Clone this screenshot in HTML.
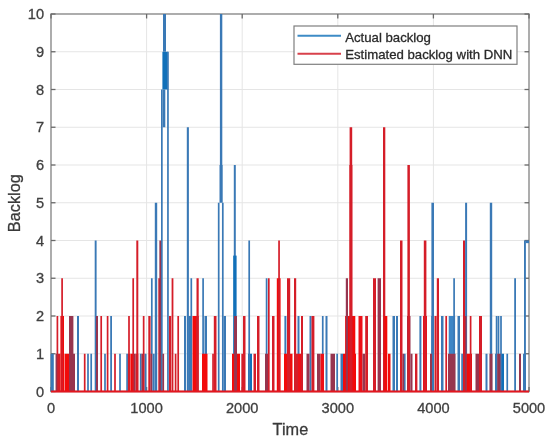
<!DOCTYPE html>
<html><head><meta charset="utf-8"><style>
html,body{margin:0;padding:0;background:#fff;width:550px;height:441px;overflow:hidden}
svg{display:block;filter:blur(0.35px)}
text{font-family:"Liberation Sans",Arial,sans-serif;stroke:currentColor;stroke-width:0.3px}
</style></head><body>
<svg width="550" height="441" viewBox="0 0 550 441">
<rect width="550" height="441" fill="#fff"/>
<g stroke="#e5e5e5" stroke-width="1"><line x1="146.60" y1="14.0" x2="146.60" y2="391.5"/><line x1="242.20" y1="14.0" x2="242.20" y2="391.5"/><line x1="337.80" y1="14.0" x2="337.80" y2="391.5"/><line x1="433.40" y1="14.0" x2="433.40" y2="391.5"/><line x1="51.0" y1="353.75" x2="529.0" y2="353.75"/><line x1="51.0" y1="316.00" x2="529.0" y2="316.00"/><line x1="51.0" y1="278.25" x2="529.0" y2="278.25"/><line x1="51.0" y1="240.50" x2="529.0" y2="240.50"/><line x1="51.0" y1="202.75" x2="529.0" y2="202.75"/><line x1="51.0" y1="165.00" x2="529.0" y2="165.00"/><line x1="51.0" y1="127.25" x2="529.0" y2="127.25"/><line x1="51.0" y1="89.50" x2="529.0" y2="89.50"/><line x1="51.0" y1="51.75" x2="529.0" y2="51.75"/></g><rect x="51.0" y="14.0" width="478.0" height="377.5" fill="none" stroke="#8a8a8a" stroke-width="1.4"/><g stroke="#6a6a6a" stroke-width="1.3"><line x1="51.00" y1="391.5" x2="51.00" y2="387.0"/><line x1="51.00" y1="14.0" x2="51.00" y2="18.5"/><line x1="146.60" y1="391.5" x2="146.60" y2="387.0"/><line x1="146.60" y1="14.0" x2="146.60" y2="18.5"/><line x1="242.20" y1="391.5" x2="242.20" y2="387.0"/><line x1="242.20" y1="14.0" x2="242.20" y2="18.5"/><line x1="337.80" y1="391.5" x2="337.80" y2="387.0"/><line x1="337.80" y1="14.0" x2="337.80" y2="18.5"/><line x1="433.40" y1="391.5" x2="433.40" y2="387.0"/><line x1="433.40" y1="14.0" x2="433.40" y2="18.5"/><line x1="529.00" y1="391.5" x2="529.00" y2="387.0"/><line x1="529.00" y1="14.0" x2="529.00" y2="18.5"/><line x1="51.0" y1="391.50" x2="55.5" y2="391.50"/><line x1="529.0" y1="391.50" x2="524.5" y2="391.50"/><line x1="51.0" y1="353.75" x2="55.5" y2="353.75"/><line x1="529.0" y1="353.75" x2="524.5" y2="353.75"/><line x1="51.0" y1="316.00" x2="55.5" y2="316.00"/><line x1="529.0" y1="316.00" x2="524.5" y2="316.00"/><line x1="51.0" y1="278.25" x2="55.5" y2="278.25"/><line x1="529.0" y1="278.25" x2="524.5" y2="278.25"/><line x1="51.0" y1="240.50" x2="55.5" y2="240.50"/><line x1="529.0" y1="240.50" x2="524.5" y2="240.50"/><line x1="51.0" y1="202.75" x2="55.5" y2="202.75"/><line x1="529.0" y1="202.75" x2="524.5" y2="202.75"/><line x1="51.0" y1="165.00" x2="55.5" y2="165.00"/><line x1="529.0" y1="165.00" x2="524.5" y2="165.00"/><line x1="51.0" y1="127.25" x2="55.5" y2="127.25"/><line x1="529.0" y1="127.25" x2="524.5" y2="127.25"/><line x1="51.0" y1="89.50" x2="55.5" y2="89.50"/><line x1="529.0" y1="89.50" x2="524.5" y2="89.50"/><line x1="51.0" y1="51.75" x2="55.5" y2="51.75"/><line x1="529.0" y1="51.75" x2="524.5" y2="51.75"/><line x1="51.0" y1="14.00" x2="55.5" y2="14.00"/><line x1="529.0" y1="14.00" x2="524.5" y2="14.00"/></g><rect x="50.60" y="353.75" width="3.20" height="37.75" fill="#3a79b6"/><rect x="77.00" y="316.00" width="2.00" height="75.50" fill="#3a79b6"/><rect x="87.15" y="353.75" width="1.70" height="37.75" fill="#3a79b6"/><rect x="90.35" y="353.75" width="1.70" height="37.75" fill="#3a79b6"/><rect x="94.70" y="240.50" width="1.90" height="151.00" fill="#3a79b6"/><rect x="104.15" y="353.75" width="1.70" height="37.75" fill="#3a79b6"/><rect x="110.20" y="316.00" width="1.80" height="75.50" fill="#3a79b6"/><rect x="119.15" y="353.75" width="1.70" height="37.75" fill="#3a79b6"/><rect x="126.25" y="353.75" width="1.70" height="37.75" fill="#3a79b6"/><rect x="139.85" y="353.75" width="1.70" height="37.75" fill="#3a79b6"/><rect x="144.40" y="353.75" width="2.10" height="37.75" fill="#3a79b6"/><rect x="150.95" y="278.25" width="1.70" height="113.25" fill="#3a79b6"/><rect x="152.95" y="353.75" width="1.70" height="37.75" fill="#3a79b6"/><rect x="154.80" y="202.75" width="2.40" height="188.75" fill="#3a79b6"/><rect x="161.00" y="89.50" width="1.70" height="302.00" fill="#3a79b6"/><rect x="162.70" y="89.50" width="2.60" height="37.75" fill="#3a79b6"/><rect x="162.40" y="51.75" width="5.40" height="37.75" fill="#1170b9"/><rect x="163.00" y="14.00" width="3.00" height="37.75" fill="#3a79b6"/><rect x="167.10" y="51.75" width="1.70" height="339.75" fill="#3a79b6"/><rect x="169.25" y="323.55" width="1.70" height="30.20" fill="#3a79b6"/><rect x="184.00" y="316.00" width="2.00" height="75.50" fill="#3a79b6"/><rect x="186.80" y="127.25" width="2.10" height="264.25" fill="#3a79b6"/><rect x="188.40" y="316.00" width="2.60" height="75.50" fill="#3a79b6"/><rect x="190.45" y="278.25" width="1.70" height="113.25" fill="#3a79b6"/><rect x="204.50" y="316.00" width="2.50" height="75.50" fill="#3a79b6"/><rect x="202.25" y="278.25" width="1.70" height="113.25" fill="#3a79b6"/><rect x="217.85" y="202.75" width="1.70" height="188.75" fill="#3a79b6"/><rect x="221.95" y="202.75" width="1.70" height="188.75" fill="#3a79b6"/><rect x="219.50" y="165.00" width="3.20" height="37.75" fill="#3a79b6"/><rect x="219.90" y="14.00" width="2.40" height="151.00" fill="#3a79b6"/><rect x="223.60" y="316.00" width="2.40" height="75.50" fill="#3a79b6"/><rect x="233.80" y="165.00" width="2.00" height="226.50" fill="#3a79b6"/><rect x="233.20" y="255.60" width="3.40" height="135.90" fill="#1170b9"/><rect x="248.00" y="353.75" width="4.00" height="37.75" fill="#1170b9"/><rect x="248.35" y="240.50" width="1.70" height="151.00" fill="#3a79b6"/><rect x="265.75" y="278.25" width="1.70" height="113.25" fill="#3a79b6"/><rect x="284.40" y="316.00" width="2.00" height="75.50" fill="#3a79b6"/><rect x="297.50" y="316.00" width="2.00" height="75.50" fill="#3a79b6"/><rect x="309.50" y="316.00" width="2.00" height="75.50" fill="#3a79b6"/><rect x="321.90" y="316.00" width="1.70" height="75.50" fill="#3a79b6"/><rect x="325.50" y="316.00" width="2.00" height="75.50" fill="#3a79b6"/><rect x="336.30" y="353.75" width="1.70" height="37.75" fill="#3a79b6"/><rect x="340.50" y="353.75" width="2.50" height="37.75" fill="#3a79b6"/><rect x="392.50" y="316.00" width="2.50" height="75.50" fill="#3a79b6"/><rect x="396.00" y="316.00" width="2.00" height="75.50" fill="#3a79b6"/><rect x="403.90" y="353.75" width="1.70" height="37.75" fill="#3a79b6"/><rect x="419.40" y="316.00" width="2.00" height="75.50" fill="#3a79b6"/><rect x="431.20" y="316.00" width="2.80" height="75.50" fill="#3a79b6"/><rect x="431.40" y="202.75" width="2.60" height="188.75" fill="#3a79b6"/><rect x="441.00" y="316.00" width="2.50" height="75.50" fill="#3a79b6"/><rect x="448.70" y="316.00" width="6.40" height="75.50" fill="#3d86c6"/><rect x="453.25" y="278.25" width="1.70" height="113.25" fill="#3a79b6"/><rect x="457.50" y="316.00" width="2.50" height="75.50" fill="#3a79b6"/><rect x="461.25" y="353.75" width="1.70" height="37.75" fill="#3a79b6"/><rect x="465.10" y="202.75" width="2.00" height="188.75" fill="#3a79b6"/><rect x="485.50" y="353.75" width="2.00" height="37.75" fill="#3a79b6"/><rect x="489.80" y="202.75" width="2.40" height="188.75" fill="#3a79b6"/><rect x="495.00" y="353.75" width="2.00" height="37.75" fill="#3a79b6"/><rect x="500.50" y="353.75" width="3.50" height="37.75" fill="#1170b9"/><rect x="495.75" y="316.00" width="1.70" height="75.50" fill="#3a79b6"/><rect x="497.65" y="316.00" width="1.70" height="75.50" fill="#3a79b6"/><rect x="500.15" y="316.00" width="1.70" height="75.50" fill="#3a79b6"/><rect x="506.40" y="353.75" width="1.70" height="37.75" fill="#3a79b6"/><rect x="514.20" y="278.25" width="1.80" height="113.25" fill="#3a79b6"/><rect x="523.00" y="353.75" width="3.00" height="37.75" fill="#3a79b6"/><rect x="524.00" y="240.50" width="1.90" height="151.00" fill="#3a79b6"/><rect x="525.90" y="240.50" width="3.10" height="2.64" fill="#3a79b6"/><rect x="56.55" y="316.00" width="1.70" height="75.50" fill="#d51d28"/><rect x="55.55" y="353.75" width="1.70" height="37.75" fill="#96354f"/><rect x="58.00" y="353.75" width="2.40" height="37.75" fill="#d51d28"/><rect x="60.40" y="316.00" width="3.60" height="75.50" fill="#f20a0a"/><rect x="61.25" y="278.25" width="1.70" height="113.25" fill="#d51d28"/><rect x="64.50" y="353.75" width="7.50" height="37.75" fill="#f20a0a"/><rect x="69.00" y="316.00" width="4.40" height="75.50" fill="#96354f"/><rect x="72.00" y="353.75" width="3.00" height="37.75" fill="#96354f"/><rect x="83.85" y="353.75" width="1.70" height="37.75" fill="#d51d28"/><rect x="96.00" y="316.00" width="2.00" height="75.50" fill="#96354f"/><rect x="100.35" y="316.00" width="1.70" height="75.50" fill="#d51d28"/><rect x="106.75" y="316.00" width="1.70" height="75.50" fill="#d51d28"/><rect x="114.15" y="353.75" width="1.70" height="37.75" fill="#d51d28"/><rect x="127.90" y="353.75" width="2.30" height="37.75" fill="#d51d28"/><rect x="128.15" y="316.00" width="1.70" height="75.50" fill="#d51d28"/><rect x="130.40" y="353.75" width="3.60" height="37.75" fill="#f20a0a"/><rect x="132.35" y="278.25" width="1.70" height="113.25" fill="#d51d28"/><rect x="133.95" y="353.75" width="1.70" height="37.75" fill="#96354f"/><rect x="135.60" y="353.75" width="2.70" height="37.75" fill="#d51d28"/><rect x="136.30" y="240.50" width="2.00" height="151.00" fill="#d51d28"/><rect x="141.40" y="353.75" width="1.70" height="37.75" fill="#96354f"/><rect x="142.80" y="316.00" width="1.70" height="75.50" fill="#d51d28"/><rect x="148.30" y="316.00" width="2.30" height="75.50" fill="#d51d28"/><rect x="150.50" y="353.75" width="1.70" height="37.75" fill="#96354f"/><rect x="158.30" y="278.25" width="2.70" height="113.25" fill="#d51d28"/><rect x="159.35" y="240.50" width="1.70" height="151.00" fill="#96354f"/><rect x="162.40" y="353.75" width="1.70" height="37.75" fill="#96354f"/><rect x="169.00" y="316.00" width="2.20" height="75.50" fill="#d51d28"/><rect x="171.60" y="278.25" width="1.80" height="113.25" fill="#d51d28"/><rect x="174.75" y="353.75" width="1.70" height="37.75" fill="#d51d28"/><rect x="177.35" y="316.00" width="1.70" height="75.50" fill="#d51d28"/><rect x="192.50" y="316.00" width="3.50" height="75.50" fill="#f20a0a"/><rect x="196.00" y="316.00" width="2.70" height="75.50" fill="#d51d28"/><rect x="196.50" y="278.25" width="2.20" height="113.25" fill="#d51d28"/><rect x="202.00" y="353.75" width="5.50" height="37.75" fill="#f20a0a"/><rect x="212.20" y="353.75" width="1.70" height="37.75" fill="#d51d28"/><rect x="213.80" y="316.00" width="2.70" height="75.50" fill="#d51d28"/><rect x="232.00" y="353.75" width="8.00" height="37.75" fill="#f20a0a"/><rect x="234.00" y="316.00" width="3.00" height="75.50" fill="#96354f"/><rect x="241.35" y="353.75" width="1.70" height="37.75" fill="#d51d28"/><rect x="243.00" y="316.00" width="2.50" height="75.50" fill="#d51d28"/><rect x="253.50" y="353.75" width="2.50" height="37.75" fill="#d51d28"/><rect x="257.00" y="316.00" width="2.50" height="75.50" fill="#d51d28"/><rect x="265.00" y="353.75" width="4.00" height="37.75" fill="#96354f"/><rect x="267.95" y="278.25" width="1.70" height="113.25" fill="#d51d28"/><rect x="272.00" y="316.00" width="2.50" height="75.50" fill="#d51d28"/><rect x="276.80" y="278.25" width="3.80" height="113.25" fill="#f20a0a"/><rect x="278.20" y="240.50" width="1.70" height="151.00" fill="#d51d28"/><rect x="284.00" y="353.75" width="8.50" height="37.75" fill="#f20a0a"/><rect x="287.00" y="278.25" width="3.20" height="113.25" fill="#d51d28"/><rect x="294.00" y="278.25" width="2.20" height="113.25" fill="#d51d28"/><rect x="296.00" y="353.75" width="2.00" height="37.75" fill="#d51d28"/><rect x="298.00" y="353.75" width="5.00" height="37.75" fill="#ec1018"/><rect x="301.00" y="316.00" width="2.00" height="75.50" fill="#d51d28"/><rect x="306.50" y="353.75" width="3.00" height="37.75" fill="#96354f"/><rect x="311.50" y="316.00" width="2.90" height="75.50" fill="#d51d28"/><rect x="317.00" y="353.75" width="3.50" height="37.75" fill="#96354f"/><rect x="320.50" y="353.75" width="3.50" height="37.75" fill="#ec1018"/><rect x="330.50" y="353.75" width="4.50" height="37.75" fill="#96354f"/><rect x="343.00" y="353.75" width="13.00" height="37.75" fill="#f20a0a"/><rect x="345.10" y="316.00" width="10.20" height="75.50" fill="#f20a0a"/><rect x="345.80" y="278.25" width="2.20" height="113.25" fill="#96354f"/><rect x="349.60" y="127.25" width="2.60" height="264.25" fill="#d51d28"/><rect x="349.40" y="165.00" width="3.00" height="226.50" fill="#d51d28"/><rect x="358.50" y="316.00" width="4.00" height="75.50" fill="#ec1018"/><rect x="362.50" y="353.75" width="2.50" height="37.75" fill="#96354f"/><rect x="365.20" y="316.00" width="2.80" height="75.50" fill="#d51d28"/><rect x="373.00" y="278.25" width="3.00" height="113.25" fill="#d51d28"/><rect x="377.60" y="278.25" width="3.40" height="113.25" fill="#96354f"/><rect x="383.00" y="127.25" width="2.30" height="264.25" fill="#d51d28"/><rect x="384.40" y="316.00" width="2.90" height="75.50" fill="#f20a0a"/><rect x="388.00" y="353.75" width="2.50" height="37.75" fill="#f20a0a"/><rect x="400.00" y="240.50" width="2.50" height="151.00" fill="#d51d28"/><rect x="402.40" y="353.75" width="1.70" height="37.75" fill="#96354f"/><rect x="407.00" y="316.00" width="3.50" height="75.50" fill="#96354f"/><rect x="407.40" y="165.00" width="2.50" height="226.50" fill="#d51d28"/><rect x="410.50" y="353.75" width="2.00" height="37.75" fill="#96354f"/><rect x="415.00" y="353.75" width="2.40" height="37.75" fill="#d51d28"/><rect x="423.00" y="316.00" width="4.00" height="75.50" fill="#ec1018"/><rect x="423.80" y="240.50" width="2.60" height="151.00" fill="#d51d28"/><rect x="430.00" y="353.75" width="2.00" height="37.75" fill="#96354f"/><rect x="434.50" y="316.00" width="2.10" height="75.50" fill="#d51d28"/><rect x="436.80" y="278.25" width="2.20" height="113.25" fill="#d51d28"/><rect x="445.35" y="316.00" width="1.70" height="75.50" fill="#d51d28"/><rect x="448.00" y="353.75" width="5.00" height="37.75" fill="#96354f"/><rect x="453.00" y="353.75" width="2.50" height="37.75" fill="#96354f"/><rect x="463.00" y="316.00" width="3.50" height="75.50" fill="#96354f"/><rect x="463.00" y="240.50" width="2.00" height="151.00" fill="#d51d28"/><rect x="466.50" y="353.75" width="5.50" height="37.75" fill="#f20a0a"/><rect x="469.75" y="316.00" width="1.70" height="75.50" fill="#d51d28"/><rect x="475.50" y="353.75" width="3.50" height="37.75" fill="#96354f"/><rect x="479.00" y="316.00" width="3.00" height="75.50" fill="#d51d28"/><rect x="489.50" y="353.75" width="3.00" height="37.75" fill="#96354f"/><rect x="497.20" y="353.75" width="3.30" height="37.75" fill="#96354f"/><rect x="519.00" y="353.75" width="2.00" height="37.75" fill="#96354f"/><line x1="51.0" y1="391.5" x2="529.0" y2="391.5" stroke="#e3161f" stroke-width="1.8"/><g font-size="14.6" fill="#404040" color="#404040"><text x="44" y="396.70" text-anchor="end">0</text><text x="44" y="358.95" text-anchor="end">1</text><text x="44" y="321.20" text-anchor="end">2</text><text x="44" y="283.45" text-anchor="end">3</text><text x="44" y="245.70" text-anchor="end">4</text><text x="44" y="207.95" text-anchor="end">5</text><text x="44" y="170.20" text-anchor="end">6</text><text x="44" y="132.45" text-anchor="end">7</text><text x="44" y="94.70" text-anchor="end">8</text><text x="44" y="56.95" text-anchor="end">9</text><text x="44" y="19.20" text-anchor="end">10</text><text x="51.00" y="413.2" text-anchor="middle">0</text><text x="146.60" y="413.2" text-anchor="middle">1000</text><text x="242.20" y="413.2" text-anchor="middle">2000</text><text x="337.80" y="413.2" text-anchor="middle">3000</text><text x="433.40" y="413.2" text-anchor="middle">4000</text><text x="529.00" y="413.2" text-anchor="middle">5000</text></g><text x="290.4" y="434.7" text-anchor="middle" font-size="16.3" fill="#3a3a3a" color="#3a3a3a">Time</text><text transform="translate(20.2,203.2) rotate(-90)" text-anchor="middle" font-size="16.3" fill="#3a3a3a" color="#3a3a3a">Backlog</text><rect x="294" y="26" width="223" height="38.3" fill="#fff" stroke="#7f7f7f" stroke-width="1.2"/><line x1="297.5" y1="35.8" x2="341" y2="35.8" stroke="#3d8bc6" stroke-width="2"/><line x1="297.5" y1="53.8" x2="341" y2="53.8" stroke="#d8414b" stroke-width="2"/><text x="345.2" y="42.1" font-size="13.2" fill="#2a2a2a" color="#2a2a2a">Actual backlog</text><text x="345.2" y="58.7" font-size="13.2" fill="#2a2a2a" color="#2a2a2a">Estimated backlog with DNN</text>
</svg>
</body></html>
